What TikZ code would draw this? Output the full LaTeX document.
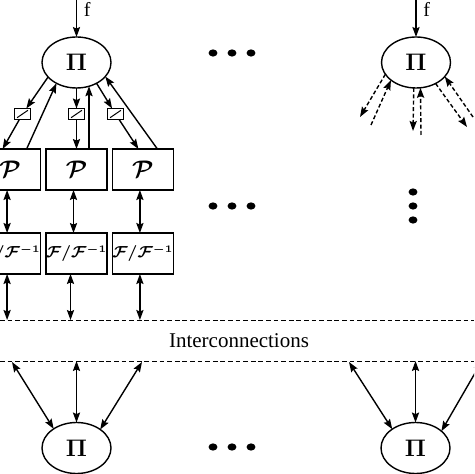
\documentclass[tikz,border=0pt]{standalone}
\usepackage{amsmath}
\usepackage{amssymb}
\usepackage[no-math]{fontspec}
\setmainfont{Liberation Serif}
\usetikzlibrary{arrows.meta,calc,positioning,shapes.geometric}

\begin{document}
\begin{tikzpicture}[
            x=0.5pt, y=-0.5pt,
            >={Stealth[length=5pt,width=3.6pt,inset=0.8pt]},
            line width=0.7pt,
            proc/.style={ellipse, draw, minimum width=34.5pt, minimum height=25.5pt, inner sep=0pt, outer sep=0pt, font=\large},
            unit/.style={rectangle, draw, minimum width=30.5pt, minimum height=20.5pt, inner sep=0pt, outer sep=0pt},
            delay/.style={rectangle, draw, minimum width=8pt, minimum height=5.5pt, inner sep=0pt, outer sep=0pt,
                path picture={\draw[line width=0.5pt] ([xshift=1.3pt,yshift=0.9pt]path picture bounding box.south west) -- ([xshift=-1.3pt,yshift=-0.9pt]path picture bounding box.north east);}},
            bus/.style={dash pattern=on 2.4pt off 1.4pt, line width=0.5pt},
            link/.style={dash pattern=on 2pt off 1.2pt}
        ]
        \clip (0,0) rectangle (474,474);

        % processors
        \node[proc] (pi1) at (76.5,62.5) {$\mathbf{\Pi}$};
        \node[proc] (pi2) at (416,62.5) {$\mathbf{\Pi}$};
        \node[proc] (pi3) at (76.5,448) {$\mathbf{\Pi}$};
        \node[proc] (pi4) at (415.5,448) {$\mathbf{\Pi}$};

        \coordinate (fin1) at (76.5,-2);
        \coordinate (fin2) at (416,-2);
        \draw[->] (fin1) -- node[pos=0.3, right=0pt] (flab1) {f} (pi1);
        \draw[->] (fin2) -- node[pos=0.3, right=0pt] (flab2) {f} (pi2);

        % units
        \node[unit, below=30.5pt of pi1] (P2) {\large$\boldsymbol{\mathcal{P}}$};
        \node[unit, left=2.7pt of P2] (P1) {\large$\boldsymbol{\mathcal{P}}$};
        \node[unit, right=2.7pt of P2] (P3) {\large$\boldsymbol{\mathcal{P}}$};
        \node[unit, below=21.5pt of P1, font=\fontsize{7.6}{9}\selectfont] (F1) {$\boldsymbol{\mathcal{F}/\mathcal{F}^{-1}}$};
        \node[unit, below=21.5pt of P2, font=\fontsize{7.6}{9}\selectfont] (F2) {$\boldsymbol{\mathcal{F}/\mathcal{F}^{-1}}$};
        \node[unit, below=21.5pt of P3, font=\fontsize{7.6}{9}\selectfont] (F3) {$\boldsymbol{\mathcal{F}/\mathcal{F}^{-1}}$};

        \node[delay] (d1) at (22.5,114) {};
        \node[delay] (d2) at (76.5,114) {};
        \node[delay] (d3) at (115.5,114) {};

        \coordinate (p1a) at ($(P1.north)+(-7.5,0)$);
        \coordinate (p1b) at ($(P1.north)+(16.5,0)$);
        \coordinate (p2b) at ($(P2.north)+(12.5,0)$);
        \coordinate (p3a) at ($(P3.north)+(-4.5,0)$);
        \coordinate (p3b) at ($(P3.north)+(14.5,0)$);

        \draw[->] (pi1.207) -- (d1);
        \draw[->] (d1) -- (p1a);
        \draw[->] (p1b) -- (pi1.226);
        \draw[->] (pi1.south) -- (d2);
        \draw[->] (d2) -- (P2.north);
        \draw[->] (p2b) -- (p2b |- pi1.298);
        \draw[->] (pi1.314) -- (d3);
        \draw[->] (d3) -- (p3a);
        \draw[->] (p3b) -- (pi1.334);

        % dashed links of the last processor
        \coordinate (o1) at (360,117);
        \coordinate (i1) at (371,125);
        \coordinate (o2) at (413,131);
        \coordinate (i2) at (421,135);
        \coordinate (o3) at (467,127);
        \coordinate (i3) at (473,117);
        \draw[link,->] (pi2.201) -- (o1);
        \draw[link,->] (i1) -- (pi2.215);
        \draw[link,->] (pi2.265) -- (o2);
        \draw[link,->] (i2) -- (pi2.280);
        \draw[link,->] (pi2.313) -- (o3);
        \draw[link,->] (i3) -- (pi2.334);

        % interconnections
        \coordinate (bus1w) at (0,320);
        \coordinate (bus1e) at (474,320);
        \coordinate (bus2w) at (0,361);
        \coordinate (bus2e) at (474,361);
        \draw[bus] (bus1w) -- (bus1e);
        \draw[bus] (bus2w) -- (bus2e);
        \node[font=\fontsize{10.5}{12}\selectfont] (inter) at (239,341) {Interconnections};

        \coordinate (u1) at ($(P1.south)+(-3,0)$);
        \coordinate (u2) at ($(P2.south)+(-3,0)$);
        \coordinate (u3) at ($(P3.south)+(-3,0)$);
        \coordinate (v1) at ($(F1.south)+(-3,0)$);
        \coordinate (v2) at ($(F2.south)+(-6,0)$);
        \coordinate (v3) at ($(F3.south)+(-3,0)$);
        \draw[<->] (u1) -- (u1 |- F1.north);
        \draw[<->] (u2) -- (u2 |- F2.north);
        \draw[<->] (u3) -- (u3 |- F3.north);
        \draw[<->] (v1) -- (v1 |- bus1w);
        \draw[<->] (v2) -- (v2 |- bus1w);
        \draw[<->] (v3) -- (v3 |- bus1w);

        \coordinate (t1) at (12,362);
        \coordinate (t3) at (142,362);
        \coordinate (t4) at (349,362);
        \coordinate (t6) at (482,361);
        \draw[<->] (t1) -- (pi3.140);
        \draw[<->] (pi3.north |- bus2w) -- (pi3.north);
        \draw[<->] (t3) -- (pi3.38);
        \draw[<->] (t4) -- (pi4.141);
        \draw[<->] (pi4.north |- bus2w) -- (pi4.north);
        \draw[<->] (t6) -- (pi4.33);

        % dots
        \foreach \x in {213,232,251} {
            \fill (\x,53) ellipse (2.2pt and 1.8pt);
            \fill (\x,206) ellipse (2.2pt and 1.8pt);
            \fill (\x,447) ellipse (2.2pt and 1.8pt);
        }
        \foreach \y in {192,206,220}
            \fill (413,\y) ellipse (2.2pt and 1.8pt);
    \end{tikzpicture}
\end{document}
